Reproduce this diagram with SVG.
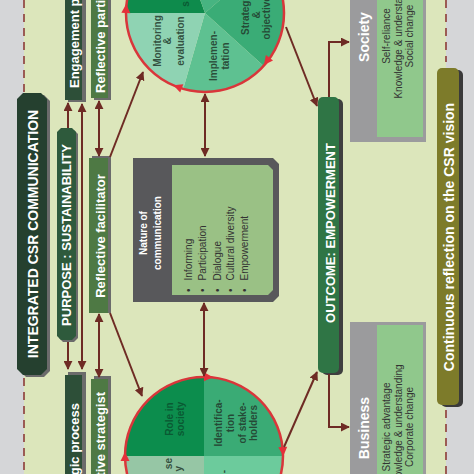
<svg xmlns="http://www.w3.org/2000/svg" width="474" height="474" viewBox="0 0 474 474">
<defs>
<style>
text{font-family:"Liberation Sans",Arial,sans-serif;}
.w{fill:#fff;font-weight:bold;}
.m{text-anchor:middle;}
.e{text-anchor:end;}
.c{font-size:10px;font-weight:bold;fill:#22382b;fill-opacity:0.85;text-anchor:middle;}
.cd{font-size:10px;font-weight:bold;fill:#0a5a33;text-anchor:middle;}
.d{font-size:10px;fill:#333;}
.con{fill:none;stroke:#6e2b24;stroke-width:2;}
.sh{fill:#6b6b6b;}
.ring{fill:none;stroke:#d9363a;stroke-width:2.5;}
.ra{fill:#e5303a;}
.dash{stroke:#8d3b37;stroke-width:1.6;stroke-dasharray:8 6;fill:none;}
</style>
<marker id="ah" viewBox="0 0 10 10" refX="9" refY="5" markerWidth="9" markerHeight="9" markerUnits="userSpaceOnUse" orient="auto-start-reverse"><path d="M0,0 L10,5 L0,10 Z" fill="#6e2b24"/></marker>
<path id="rah" d="M5,0 L-4,-4.5 L-4,4.5 Z"/>
</defs>

<rect x="0" y="0" width="474" height="474" fill="#dce6bb"/>
<rect x="0" y="0" width="24" height="474" fill="#d5d6d8"/>
<rect x="446" y="0" width="28" height="474" fill="#d5d6d8"/>
<path class="dash" d="M24,0 V92 M24,378 V474 M446,0 V62 M446,410 V474"/>

<g id="integrated">
<path class="sh" transform="translate(3,2)" d="M23,93 L41,93 L47,99 L47,369 L41,375 L23,375 L17,369 L17,99 Z"/>
<path fill="#25402f" d="M23,93 L41,93 L47,99 L47,369 L41,375 L23,375 L17,369 L17,99 Z"/>
<text class="w m" font-size="14" transform="translate(37.5,234) rotate(-90)">INTEGRATED CSR COMMUNICATION</text>
</g>

<g id="purpose">
<path class="sh" transform="translate(2,2)" d="M61,128 L72,128 L76,132 L76,336 L72,340 L61,340 L57,336 L57,132 Z"/>
<path fill="#2e5a3c" d="M61,128 L72,128 L76,132 L76,336 L72,340 L61,340 L57,336 L57,132 Z"/>
<text class="w m" font-size="13" transform="translate(71,235) rotate(-90)">PURPOSE : SUSTAINABILITY</text>
</g>

<g id="engagement">
<rect class="sh" x="68" y="-5" width="18" height="107"/>
<rect fill="#2d4f38" x="65" y="-5" width="17" height="105"/>
<text class="w" font-size="13" transform="translate(78.5,88) rotate(-90)">Engagement process</text>
</g>

<g id="participant">
<rect class="sh" x="94" y="-5" width="17" height="105"/>
<rect fill="#4e7944" x="91" y="-5" width="17" height="103"/>
<text class="w" font-size="13" transform="translate(105,93) rotate(-90)">Reflective participant</text>
</g>

<g id="strategic">
<rect class="sh" x="68" y="372" width="18" height="110"/>
<rect fill="#2d4f38" x="65" y="375" width="17" height="110"/>
<text class="w e" font-size="13" transform="translate(78.5,403) rotate(-90)">Strategic process</text>
</g>

<g id="strategist">
<rect class="sh" x="94" y="376" width="17" height="110"/>
<rect fill="#4e7944" x="91" y="379" width="17" height="110"/>
<text class="w e" font-size="13" transform="translate(105,392) rotate(-90)">Reflective strategist</text>
</g>

<g id="facilitator">
<rect class="sh" x="92" y="156" width="19" height="157"/>
<rect fill="#4e7944" x="89" y="158" width="19" height="155"/>
<text class="w m" font-size="13" transform="translate(104.5,236) rotate(-90)">Reflective facilitator</text>
</g>

<g id="cycle-top">
<path fill="#0e8b4c" d="M205,13 L126,13 A79,79 0 0 1 178,-61.2 Z"/>
<path fill="#47b481" d="M205,13 L178,-61.2 A79,79 0 0 1 264.6,-38.8 Z"/>
<path fill="#3aac76" d="M205,13 L264.6,-38.8 A79,79 0 0 1 263.7,65.9 Z"/>
<path fill="#5ec191" d="M205,13 L263.7,65.9 A79,79 0 0 1 183.2,88.9 Z"/>
<path fill="#8fd3b3" d="M205,13 L183.2,88.9 A79,79 0 0 1 126,13 Z"/>
<circle class="ring" cx="205" cy="13" r="79"/>
<use href="#rah" class="ra" transform="translate(126,9) rotate(272)"/>
<use href="#rah" class="ra" transform="translate(178,87) rotate(200)"/>
<use href="#rah" class="ra" transform="translate(267,61) rotate(128)"/>
<text class="cd" transform="translate(189,4) rotate(-90)">s</text>
<text class="c" transform="translate(161,41) rotate(-90)">Monitoring</text>
<text class="c" transform="translate(171,41) rotate(-90)">&amp;</text>
<text class="c" transform="translate(184,41) rotate(-90)">evaluation</text>
<text class="c" transform="translate(217,56) rotate(-90)">Implemen-</text>
<text class="c" transform="translate(228.5,56) rotate(-90)">tation</text>
<text class="c" transform="translate(248.5,15) rotate(-90)">Strategy</text>
<text class="c" transform="translate(260,15) rotate(-90)">&amp;</text>
<text class="c" transform="translate(270,15) rotate(-90)">objectives</text>
</g>

<g id="cycle-bottom">
<path fill="#0c8d4d" d="M204,456 L125,456 A79,79 0 0 1 204,377 Z"/>
<path fill="#3aab75" d="M204,456 L204,377 A79,79 0 0 1 283,456 Z"/>
<path fill="#6ccb9c" d="M204,456 L283,456 A79,79 0 0 1 204,535 Z"/>
<path fill="#96c6a5" d="M204,456 L204,535 A79,79 0 0 1 125,456 Z"/>
<circle class="ring" cx="204" cy="456" r="79"/>
<use href="#rah" class="ra" transform="translate(208,377) rotate(2)"/>
<use href="#rah" class="ra" transform="translate(283,451) rotate(86)"/>
<use href="#rah" class="ra" transform="translate(125,457) rotate(270)"/>
<text class="cd" transform="translate(172.5,419) rotate(-90)">Role in</text>
<text class="cd" transform="translate(184,419) rotate(-90)">society</text>
<text class="c" transform="translate(222,423) rotate(-90)">Identifica-</text>
<text class="c" transform="translate(234,423) rotate(-90)">tion</text>
<text class="c" transform="translate(245.5,423) rotate(-90)">of stake-</text>
<text class="c" transform="translate(257,423) rotate(-90)">holders</text>
<text class="c e" style="text-anchor:end" transform="translate(172,458) rotate(-90)">se</text>
<text class="c e" style="text-anchor:end" transform="translate(182,466) rotate(-90)">y</text>
<text class="c e" style="text-anchor:end" transform="translate(227,470) rotate(-90)">-</text>
</g>

<g id="nature">
<path fill="#58585b" d="M133,158 L273,158 L279,164 L279,296 L273,302 L133,302 Z"/>
<path fill="#9ac185" d="M172,165 L268,165 L273,170 L273,290 L268,295 L172,295 Z"/>
<text class="w m" font-size="10" transform="translate(147,233) rotate(-90)">Nature of</text>
<text class="w m" font-size="10" transform="translate(160.5,233) rotate(-90)">communication</text>
<text class="d" transform="translate(192,292) rotate(-90)">•<tspan dx="8">Informing</tspan></text>
<text class="d" transform="translate(206,292) rotate(-90)">•<tspan dx="8">Participation</tspan></text>
<text class="d" transform="translate(220.5,292) rotate(-90)">•<tspan dx="8">Dialogue</tspan></text>
<text class="d" transform="translate(234,292) rotate(-90)">•<tspan dx="8">Cultural  diversity</tspan></text>
<text class="d" transform="translate(248,292) rotate(-90)">•<tspan dx="8">Empowerment</tspan></text>
</g>

<g id="outcome">
<rect fill="#3f3f3f" x="322" y="99" width="21" height="276" rx="5"/>
<rect fill="#2f7545" x="318" y="97" width="21" height="276" rx="5"/>
<text class="w m" font-size="13" transform="translate(335,233) rotate(-90)">OUTCOME: EMPOWERMENT</text>
</g>

<g id="society">
<rect fill="#9b9b9d" x="350" y="-2" width="76" height="144"/>
<rect fill="#90c88c" x="377" y="-2" width="46" height="139"/>
<text class="w m" font-size="14" transform="translate(369,37) rotate(-90)">Society</text>
<text class="d m" transform="translate(389.5,36) rotate(-90)">Self-reliance</text>
<text class="d m" transform="translate(401.5,36) rotate(-90)">Knowledge &amp; understanding</text>
<text class="d m" transform="translate(413,36) rotate(-90)">Social change</text>
</g>

<g id="business">
<rect fill="#9b9b9d" x="350" y="322" width="76" height="160"/>
<rect fill="#90c88c" x="377" y="325" width="46" height="155"/>
<text class="w m" font-size="14" transform="translate(369,428) rotate(-90)">Business</text>
<text class="d m" transform="translate(389.5,427) rotate(-90)">Strategic advantage</text>
<text class="d m" transform="translate(401.5,427) rotate(-90)">Knowledge &amp; understanding</text>
<text class="d m" transform="translate(413,427) rotate(-90)">Corporate change</text>
</g>

<g id="continuous">
<rect fill="#3a3a3a" x="441" y="70" width="22" height="337" rx="5"/>
<rect fill="#7d7b2a" x="437" y="68" width="22" height="337" rx="5"/>
<text class="w m" font-size="14" transform="translate(453.5,237) rotate(-90)">Continuous reflection on the CSR vision</text>
</g>

<g id="connectors">
<path class="con" d="M68,128 V103" marker-end="url(#ah)"/>
<path class="con" d="M68,342 V369" marker-end="url(#ah)"/>
<path class="con" d="M82,104 V369" marker-start="url(#ah)" marker-end="url(#ah)"/>
<path class="con" d="M99,101 V156" marker-start="url(#ah)" marker-end="url(#ah)"/>
<path class="con" d="M99,314 V377" marker-start="url(#ah)" marker-end="url(#ah)"/>
<path class="con" d="M110,157 L143,72" marker-end="url(#ah)"/>
<path class="con" d="M110,313 L142,396" marker-end="url(#ah)"/>
<path class="con" d="M205,94 V156" marker-start="url(#ah)" marker-end="url(#ah)"/>
<path class="con" d="M204,303 V376" marker-start="url(#ah)" marker-end="url(#ah)"/>
<path class="con" d="M286,27 L317,106" marker-end="url(#ah)"/>
<path class="con" d="M284,447 L317,372" marker-end="url(#ah)"/>
<path class="con" d="M329,97 V42 H349" marker-end="url(#ah)"/>
<path class="con" d="M329,374 V427 H349" marker-end="url(#ah)"/>
</g>
</svg>
